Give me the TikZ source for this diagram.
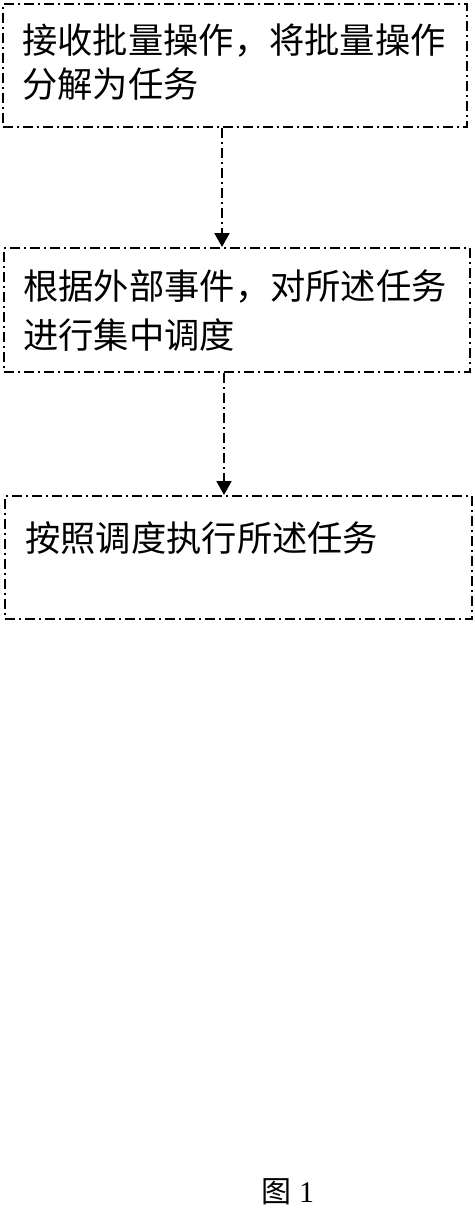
\documentclass[tikz,border=0pt]{standalone}
\usepackage{fontspec}
\setmainfont{Liberation Serif}
\newfontfamily\cjk{Noto Sans CJK SC}
\usetikzlibrary{arrows.meta}
\begin{document}
\begin{tikzpicture}[x=1pt,y=1pt,
  dashdot/.style={line width=2pt,dash pattern=on 10pt off 4pt on 2pt off 4pt},
  box/.style={draw,dashdot,rectangle,inner sep=0pt},
  txt/.style={anchor=base west,inner sep=0pt,font=\cjk\fontsize{35.3}{40}\selectfont},
  flow/.style={dashdot,-{Triangle[width=15pt,length=14pt]}},
  captxt/.style={inner sep=0pt,font=\fontsize{30}{34}\selectfont}]
\useasboundingbox (0,0) rectangle (474,-1209);
\fill[white] (0,0) rectangle (474,-1209);
% boxes
\node[box,minimum width=464pt,minimum height=123pt] (b1) at (235,-65.5) {};
\node[box,minimum width=466pt,minimum height=124pt] (b2) at (237,-310) {};
\node[box,minimum width=467pt,minimum height=123pt] (b3) at (238.5,-557.5) {};
% texts
\node[txt] (t1a) at (22,-54) {接收批量操作，将批量操作};
\node[txt] (t1b) at (22,-98) {分解为任务};
\node[txt] (t2a) at (23,-299) {根据外部事件，对所述任务};
\node[txt] (t2b) at (23,-348) {进行集中调度};
\node[txt] (t3a) at (25,-551) {按照调度执行所述任务};
% connectors
\draw[flow] (b1.south -| 222,0) -- (b2.north -| 222,0);
\draw[flow] (b2.south -| 224,0) -- (b3.north -| 224,0);
% caption
\node[captxt,anchor=base west] (caption) at (261,-1202) {{\cjk 图}\hspace{8pt}1};
\end{tikzpicture}
\end{document}
